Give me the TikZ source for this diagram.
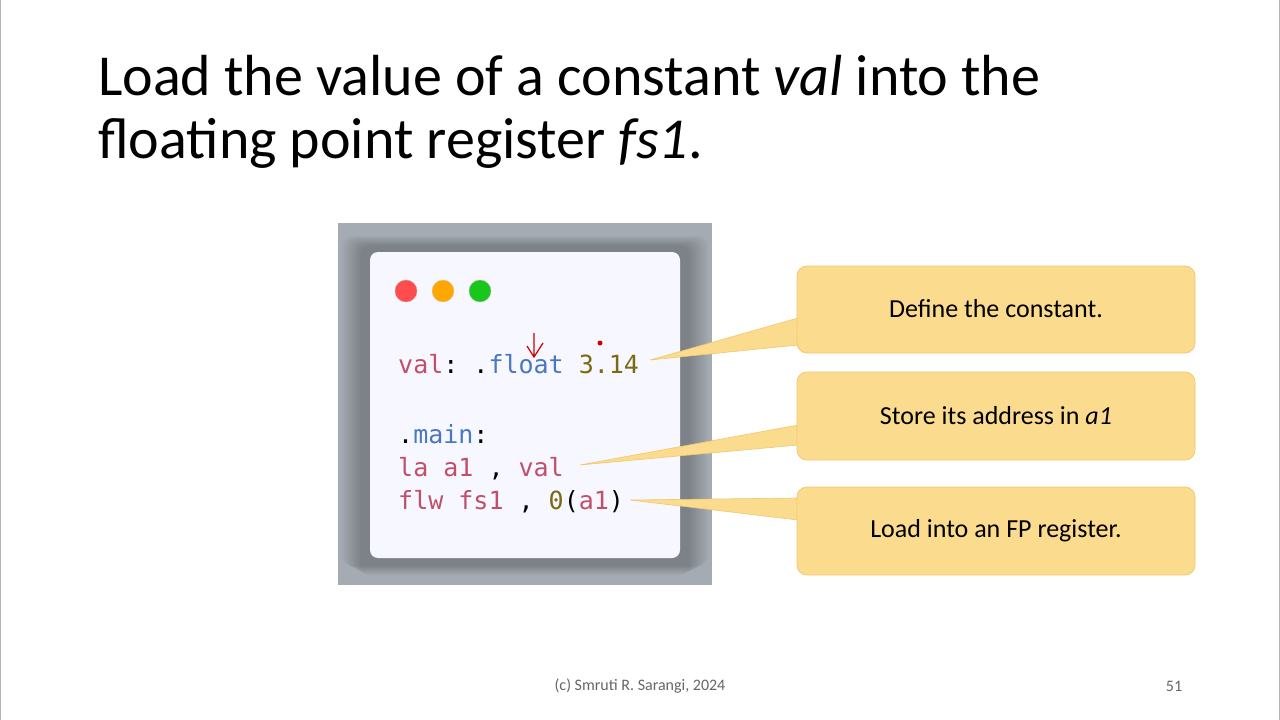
\documentclass[tikz,border=0pt]{standalone}
\usepackage{fontspec}
\setmainfont{Carlito}
\setmonofont{DejaVu Sans Mono}
\definecolor{cred}{HTML}{C0506A}
\definecolor{cblue}{HTML}{4A78C0}
\definecolor{cnum}{HTML}{7A6A10}
\definecolor{callfill}{HTML}{FBDB8E}
\definecolor{callline}{HTML}{F0C870}
\definecolor{outer}{HTML}{A4ABB2}
\tikzset{
 callout/.style={draw=callline,fill=callfill,rounded corners=10pt,line width=0.8pt},
 calltext/.style={font=\fontsize{26}{30}\selectfont,anchor=center},
 code/.style={font=\ttfamily\fontsize{25}{28}\selectfont,anchor=base west,inner sep=0pt},
 dot/.style={circle,minimum size=22pt,inner sep=0pt}
}
\begin{document}
\begin{tikzpicture}[x=1pt,y=-1pt]
\useasboundingbox (0,0) rectangle (1280,720);
\fill[white] (0,0) rectangle (1280,720);
\draw[gray!60,line width=1pt] (0.5,0) -- (0.5,720) (1279.5,0) -- (1279.5,720);
% title
\node[anchor=base west,inner sep=0pt,font=\fontsize{58}{62}\selectfont] (t1) at (98,95) {Load the value of a constant \textit{val} into the};
\node[anchor=base west,inner sep=0pt,font=\fontsize{58}{62}\selectfont] (t2) at (98,158) {floating point register \textit{fs1}.};
% code window
\fill[outer] (338,223) rectangle (712,585);
\foreach \i in {0,...,9}{
  \fill[black,opacity=0.022,rounded corners=10pt] (360-2*\i,245-\i) rectangle (690+2*\i,575-\i);
}
\node[fill=white!97!blue,rounded corners=8pt,minimum width=310pt,minimum height=306pt,inner sep=0pt] (win) at (525,405) {};
\node[dot,fill=red!70!white,draw=red!60!black!40] (d1) at (406,291) {};
\node[dot,fill=orange!70!yellow,draw=orange!60!black!30] (d2) at (443,291) {};
\node[dot,fill=green!75!black!90,draw=green!50!black!40] (d3) at (480,291) {};
\node[code] (l1) at (398,373) {\textcolor{cred}{val}: .\textcolor{cblue}{float} \textcolor{cnum}{3.14}};
\node[code] (l2) at (398,443) {.\textcolor{cblue}{main}:};
\node[code] (l3) at (398,476) {\textcolor{cred}{la a1} , \textcolor{cred}{val}};
\node[code] (l4) at (398,509) {\textcolor{cred}{flw fs1} , \textcolor{cnum}{0}(\textcolor{cred}{a1})};
% annotations
\draw[red!80!black,line width=1.2pt] (534,333) -- (534,356) (527,346) -- (534,357) -- (543,343);
\fill[red!80!black] (600,343) circle (2.5pt);
% callouts
\coordinate (p1) at (650,360);
\coordinate (p2) at (580,465);
\coordinate (p3) at (630,500);
\fill[callfill] (p1) -- (798,318) -- (798,345) -- cycle;
\fill[callfill] (p2) -- (798,425) -- (798,445) -- cycle;
\fill[callfill] (p3) -- (798,498) -- (798,520) -- cycle;
\draw[callline,line width=0.6pt] (p1) -- (798,318) (p1) -- (798,345);
\draw[callline,line width=0.6pt] (p2) -- (798,425) (p2) -- (798,445);
\draw[callline,line width=0.6pt] (p3) -- (798,498) (p3) -- (798,520);
\node[callout,minimum width=398pt,minimum height=87pt] (c1) at (996,309.5) {};
\node[callout,minimum width=398pt,minimum height=88pt] (c2) at (996,416) {};
\node[callout,minimum width=398pt,minimum height=88pt] (c3) at (996,531) {};
\fill[callfill] (797.5,319) rectangle (800,344) (797.5,426) rectangle (800,444) (797.5,499) rectangle (800,519);
\node[calltext] (c1t) at (996,309) {Define the constant.};
\node[calltext] (c2t) at (996,416) {Store its address in \textit{a1}};
\node[calltext] (c3t) at (996,531) {Load into an FP register.};
% footer
\node[font=\fontsize{16}{18}\selectfont,text=gray!80!black] (f1) at (640,686) {(c) Smruti R. Sarangi, 2024};
\node[font=\fontsize{16}{18}\selectfont,text=gray!80!black] (f2) at (1174,686) {51};
\end{tikzpicture}
\end{document}
